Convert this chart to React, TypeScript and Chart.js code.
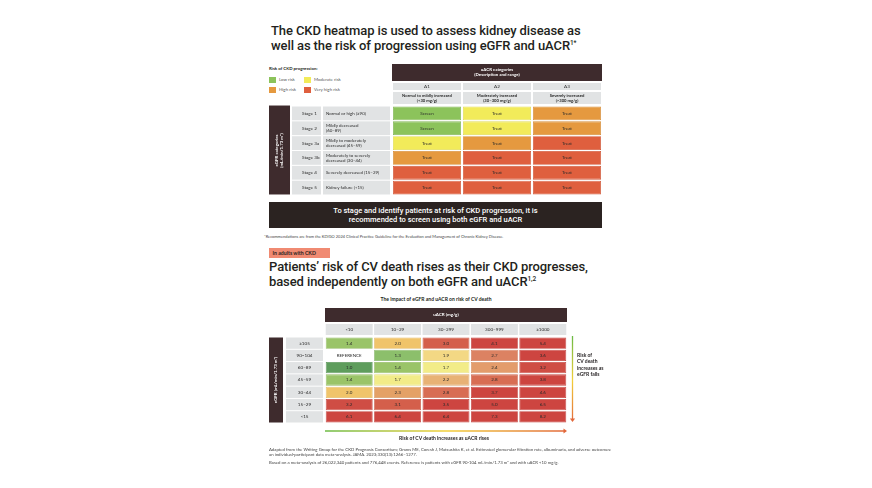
import React, { useEffect, useRef } from "react";
import { Chart, registerables } from "chart.js";

Chart.register(...registerables);

// ---- CKD staging heatmap (KDIGO) ----
const stageLabels = ["Stage 1", "Stage 2", "Stage 3a", "Stage 3b", "Stage 4", "Stage 5"];
const stageDescriptions = [
  ["Normal or high (≥90)"],
  ["Mildly decreased", "(60–89)"],
  ["Mildly to moderately", "decreased (45–59)"],
  ["Moderately to severely", "decreased (30–44)"],
  ["Severely decreased (15–29)"],
  ["Kidney failure (<15)"],
];
const uacrCategories = ["A1", "A2", "A3"];
const uacrDescriptions = [
  ["Normal to mildly increased", "(<30 mg/g)"],
  ["Moderately increased", "(30–300 mg/g)"],
  ["Severely increased", "(>300 mg/g)"],
];
const riskLevels = [
  ["low", "moderate", "high"],
  ["low", "moderate", "high"],
  ["moderate", "high", "veryHigh"],
  ["high", "veryHigh", "veryHigh"],
  ["veryHigh", "veryHigh", "veryHigh"],
  ["veryHigh", "veryHigh", "veryHigh"],
];
const legendItems = [
  ["low", "Low risk"],
  ["moderate", "Moderate risk"],
  ["high", "High risk"],
  ["veryHigh", "Very high risk"],
];

// ---- CV death hazard ratios by eGFR and uACR ----
const egfrBands = ["≥105", "90–104", "60–89", "45–59", "30–44", "15–29", "<15"];
const uacrBands = ["<10", "10–29", "30–299", "300–999", "≥1000"];
const cvDeathRisk: (number | null)[][] = [
  [1.4, 2.0, 3.0, 4.1, 5.4],
  [null, 1.3, 1.9, 2.7, 3.6],
  [1.0, 1.4, 1.7, 2.4, 3.2],
  [1.4, 1.7, 2.2, 2.8, 3.8],
  [2.0, 2.3, 2.8, 3.7, 4.6],
  [3.2, 3.1, 3.5, 5.0, 6.5],
  [6.1, 6.4, 6.4, 7.3, 8.2],
];

const riskFill: Record<string, string> = {
  low: "#8cc35b",
  moderate: "#f2eb5a",
  high: "#e5993f",
  veryHigh: "#df5f3e",
};

const cvScale: [number, string][] = [
  [1.0, "#5e9d5c"],
  [1.3, "#8cbf6b"],
  [1.4, "#9ac468"],
  [1.7, "#f2ec88"],
  [1.9, "#f3d884"],
  [2.0, "#f0c46a"],
  [2.2, "#e8b275"],
  [2.3, "#e4a166"],
  [2.4, "#e39c6b"],
  [2.7, "#dc8262"],
  [2.8, "#d86d53"],
  [3.0, "#d45f4b"],
  [3.2, "#cf4d44"],
  [3.5, "#cd4540"],
];

const DARK = "#3e2b2d";
const GREY = "#e1e3e4";
const INK = "#2a2a2a";
const SMALL = "Lato, 'Noto Sans', sans-serif";

function cvColor(v: number | null) {
  if (v === null) return "#ffffff";
  let c = cvScale[0][1];
  for (const [t, col] of cvScale) if (v >= t - 1e-9) c = col;
  return c;
}

function shade(hex: string, k: number) {
  const n = parseInt(hex.slice(1), 16);
  const r = Math.round(((n >> 16) & 255) * k);
  const g = Math.round(((n >> 8) & 255) * k);
  const b = Math.round((n & 255) * k);
  return `rgb(${r},${g},${b})`;
}

type Rect = { l: number; r: number; t: number; b: number; cx: number; cy: number };

function cellRect(chart: any, row: number, col: number): Rect {
  const el = chart.getDatasetMeta(row).data[col];
  const p = el.getProps(["x", "y", "base", "width"], true);
  const t = Math.min(p.y, p.base);
  const b = Math.max(p.y, p.base);
  return { l: p.x - p.width / 2, r: p.x + p.width / 2, t, b, cx: p.x, cy: (t + b) / 2 };
}

function box(ctx: CanvasRenderingContext2D, x0: number, y0: number, x1: number, y1: number, fill: string) {
  ctx.fillStyle = fill;
  ctx.fillRect(x0, y0, x1 - x0, y1 - y0);
}

function label(
  ctx: CanvasRenderingContext2D,
  lines: string[],
  x: number,
  cy: number,
  font: string,
  color: string,
  align: CanvasTextAlign = "center",
  lh = 5.2
) {
  ctx.save();
  ctx.font = font;
  ctx.fillStyle = color;
  ctx.textAlign = align;
  ctx.textBaseline = "middle";
  const start = cy - ((lines.length - 1) * lh) / 2;
  lines.forEach((s, i) => ctx.fillText(s, x, start + i * lh));
  ctx.restore();
}

function heatConfig(o: {
  rows: number;
  cols: string[];
  fill: (r: number, c: number) => string;
  stroke: (r: number, c: number) => string;
  padding: { left: number; top: number; right: number; bottom: number };
  barPct: number;
  inset: number;
  plugins: any[];
}): any {
  const datasets = Array.from({ length: o.rows }, (_, r) => ({
    data: o.cols.map(() => [r + o.inset, r + 1 - o.inset]),
    backgroundColor: o.cols.map((_, c) => o.fill(r, c)),
    borderColor: o.cols.map((_, c) => o.stroke(r, c)),
    borderWidth: 0.8,
    borderSkipped: false,
    grouped: false,
    categoryPercentage: 1,
    barPercentage: o.barPct,
  }));
  return {
    type: "bar",
    data: { labels: o.cols, datasets },
    options: {
      responsive: false,
      animation: false,
      layout: { padding: o.padding },
      scales: {
        x: { type: "category", display: false, offset: true },
        y: { type: "linear", display: false, min: 0, max: o.rows, reverse: true },
      },
      plugins: { legend: { display: false }, tooltip: { enabled: false }, title: { display: false } },
    },
    plugins: o.plugins,
  };
}

// Headers, row labels and cell text for the staging grid
const stagingDecor = {
  id: "stagingDecor",
  beforeDatasetsDraw(chart: any) {
    const { ctx, chartArea: a } = chart;
    box(ctx, a.left, a.top - 42, a.right, a.top - 25, DARK);
    label(ctx, ["uACR categories", "(Description and range)"], (a.left + a.right) / 2, a.top - 33.5, `700 4.4px ${SMALL}`, "#fff", "center", 5);
    uacrCategories.forEach((name, c) => {
      const cell = cellRect(chart, 0, c);
      box(ctx, cell.l, a.top - 23, cell.r, a.top - 16, GREY);
      label(ctx, [name], cell.cx, a.top - 19.5, `400 4.6px ${SMALL}`, INK);
      box(ctx, cell.l, a.top - 14, cell.r, a.top - 2, GREY);
      label(ctx, uacrDescriptions[c], cell.cx, a.top - 8, `700 4.2px ${SMALL}`, INK, "center", 4.8);
    });
    const first = cellRect(chart, 0, 0);
    const last = cellRect(chart, stageLabels.length - 1, 0);
    box(ctx, a.left - 123, first.t - 1, a.left - 102, last.b, DARK);
    ctx.save();
    ctx.translate(a.left - 112.5, (first.t + last.b) / 2);
    ctx.rotate(-Math.PI / 2);
    label(ctx, ["eGFR categories", "(mL/min/1.73 m²)"], 0, 0, `700 4.4px ${SMALL}`, "#fff", "center", 5);
    ctx.restore();
    stageLabels.forEach((s, r) => {
      const cell = cellRect(chart, r, 0);
      box(ctx, a.left - 100, cell.t, a.left - 71, cell.b, GREY);
      label(ctx, [s], a.left - 90, cell.cy, `400 4.6px ${SMALL}`, INK, "left");
      box(ctx, a.left - 69, cell.t, a.left - 2, cell.b, GREY);
      label(ctx, stageDescriptions[r], a.left - 66, cell.cy, `400 4.4px ${SMALL}`, INK, "left", 4.8);
    });
  },
  afterDatasetsDraw(chart: any) {
    const { ctx } = chart;
    riskLevels.forEach((row, r) =>
      row.forEach((lvl, c) => {
        const cell = cellRect(chart, r, c);
        label(ctx, [lvl === "low" ? "Screen" : "Treat"], cell.cx, cell.cy, `400 4.5px ${SMALL}`, INK);
      })
    );
  },
};

function arrowHead(ctx: CanvasRenderingContext2D, x: number, y: number, dir: "down" | "right", color: string) {
  ctx.save();
  ctx.fillStyle = color;
  ctx.beginPath();
  if (dir === "down") {
    ctx.moveTo(x - 2.6, y - 3.5);
    ctx.lineTo(x + 2.6, y - 3.5);
    ctx.lineTo(x, y);
  } else {
    ctx.moveTo(x - 3.5, y - 2.6);
    ctx.lineTo(x - 3.5, y + 2.6);
    ctx.lineTo(x, y);
  }
  ctx.closePath();
  ctx.fill();
  ctx.restore();
}

// Headers, row labels, value text and trend arrows for the CV death grid
const cvDecor = {
  id: "cvDecor",
  beforeDatasetsDraw(chart: any) {
    const { ctx, chartArea: a } = chart;
    box(ctx, a.left, a.top - 29, a.right, a.top - 15, DARK);
    label(ctx, ["uACR (mg/g)"], (a.left + a.right) / 2, a.top - 22, `700 4.5px ${SMALL}`, "#fff");
    uacrBands.forEach((name, c) => {
      const cell = cellRect(chart, 0, c);
      box(ctx, cell.l, a.top - 13, cell.r, a.top - 2, GREY);
      label(ctx, [name], cell.cx, a.top - 7.5, `400 4.6px ${SMALL}`, INK);
    });
    const first = cellRect(chart, 0, 0);
    const last = cellRect(chart, egfrBands.length - 1, 0);
    box(ctx, a.left - 56, first.t, a.left - 42, last.b, DARK);
    ctx.save();
    ctx.translate(a.left - 49, (first.t + last.b) / 2);
    ctx.rotate(-Math.PI / 2);
    label(ctx, ["eGFR (mL/min/1.73 m²)"], 0, 0, `700 4.4px ${SMALL}`, "#fff");
    ctx.restore();
    egfrBands.forEach((s, r) => {
      const cell = cellRect(chart, r, 0);
      box(ctx, a.left - 39, cell.t, a.left - 2, cell.b, GREY);
      label(ctx, [s], a.left - 20.5, cell.cy, `400 4.6px ${SMALL}`, INK);
    });

    // eGFR trend arrow (right side)
    const vx = a.right + 5.5;
    const vg = ctx.createLinearGradient(0, a.top, 0, a.bottom);
    vg.addColorStop(0, "#6dbb45");
    vg.addColorStop(0.5, "#f2cf3a");
    vg.addColorStop(1, "#e2673a");
    ctx.save();
    ctx.strokeStyle = vg;
    ctx.lineWidth = 1.3;
    ctx.beginPath();
    ctx.moveTo(vx, a.top - 1);
    ctx.lineTo(vx, a.bottom - 3);
    ctx.stroke();
    ctx.restore();
    arrowHead(ctx, vx, a.bottom - 1, "down", "#e2673a");

    // uACR trend arrow (below)
    const hy = a.bottom + 8;
    const hg = ctx.createLinearGradient(a.left, 0, a.right, 0);
    hg.addColorStop(0, "#6dbb45");
    hg.addColorStop(0.5, "#f2cf3a");
    hg.addColorStop(1, "#e2673a");
    ctx.save();
    ctx.strokeStyle = hg;
    ctx.lineWidth = 1.3;
    ctx.beginPath();
    ctx.moveTo(a.left, hy);
    ctx.lineTo(a.right - 3, hy);
    ctx.stroke();
    ctx.restore();
    arrowHead(ctx, a.right, hy, "right", "#e2673a");
  },
  afterDatasetsDraw(chart: any) {
    const { ctx } = chart;
    cvDeathRisk.forEach((row, r) =>
      row.forEach((v, c) => {
        const cell = cellRect(chart, r, c);
        label(ctx, [v === null ? "REFERENCE" : v.toFixed(1)], cell.cx, cell.cy, `400 4.5px ${SMALL}`, INK);
      })
    );
  },
};

function ChartCanvas(props: { left: number; top: number; width: number; height: number; make: () => any }) {
  const ref = useRef<HTMLCanvasElement>(null);
  useEffect(() => {
    const chart = new Chart(ref.current as HTMLCanvasElement, props.make());
    return () => chart.destroy();
  }, []);
  return (
    <canvas
      ref={ref}
      width={props.width}
      height={props.height}
      style={{ position: "absolute", left: props.left, top: props.top, width: props.width, height: props.height }}
    />
  );
}

const at = (left: number, top: number, extra: React.CSSProperties = {}): React.CSSProperties => ({
  position: "absolute",
  left,
  top,
  whiteSpace: "nowrap",
  ...extra,
});

const headline: React.CSSProperties = {
  fontFamily: "Roboto, 'Liberation Sans', sans-serif",
  fontWeight: 500,
  fontSize: 13,
  lineHeight: "15px",
  color: "#231f20",
  letterSpacing: -0.1,
};

const sup: React.CSSProperties = { fontSize: 6.5, verticalAlign: "top", lineHeight: "10px" };

export default function App() {
  return (
    <div
      style={{
        position: "absolute",
        left: 0,
        top: 0,
        width: 872,
        height: 488,
        background: "#fff",
        overflow: "hidden",
        fontFamily: SMALL,
        color: "#231f20",
      }}
    >
      <div style={at(271, 23, headline)}>
        The CKD heatmap is used to assess kidney disease as
        <br />
        well as the risk of progression using eGFR and uACR<span style={sup}>1*</span>
      </div>

      <div style={at(269, 66, { fontSize: 4.4, fontWeight: 700 })}>Risk of CKD progression:</div>
      {legendItems.map(([key, text], i) => {
        const x = 269 + (i % 2) * 35;
        const y = 77 + Math.floor(i / 2) * 10;
        return (
          <React.Fragment key={key}>
            <div style={at(x, y, { width: 7, height: 6, background: riskFill[key] })} />
            <div style={at(x + 10, y, { fontSize: 4.4, lineHeight: "6px", color: "#555" })}>{text}</div>
          </React.Fragment>
        );
      })}

      <ChartCanvas
        left={262}
        top={58}
        width={350}
        height={142}
        make={() =>
          heatConfig({
            rows: stageLabels.length,
            cols: uacrCategories,
            fill: (r, c) => riskFill[riskLevels[r][c]],
            stroke: (r, c) => shade(riskFill[riskLevels[r][c]], 0.93),
            padding: { left: 130, top: 48, right: 10, bottom: 5 },
            barPct: 0.972,
            inset: 0.035,
            plugins: [stagingDecor],
          })
        }
      />

      <div
        style={at(269, 202, {
          width: 333,
          height: 26,
          background: "#2b2321",
          color: "#fff",
          fontFamily: "Roboto, 'Liberation Sans', sans-serif",
          fontWeight: 500,
          fontSize: 7.5,
          lineHeight: "9.2px",
          textAlign: "center",
          display: "flex",
          flexDirection: "column",
          justifyContent: "center",
        })}
      >
        <div>To stage and identify patients at risk of CKD progression, it is</div>
        <div>recommended to screen using both eGFR and uACR</div>
      </div>
      <div style={at(264, 234, { fontSize: 4, color: "#444" })}>
        *Recommendations are from the KDIGO 2024 Clinical Practice Guideline for the Evaluation and Management of
        Chronic Kidney Disease.
      </div>

      <div
        style={at(269, 248, {
          width: 61,
          height: 10,
          background: "#f08a72",
          fontSize: 5.2,
          fontWeight: 700,
          lineHeight: "10px",
          paddingLeft: 3.5,
          boxSizing: "border-box",
          color: "#2b2321",
        })}
      >
        In adults with CKD
      </div>
      <div style={at(269, 259, headline)}>
        Patients’ risk of CV death rises as their CKD progresses,
        <br />
        based independently on both eGFR and uACR<span style={sup}>1,2</span>
      </div>

      <div style={at(336, 296, { width: 200, textAlign: "center", fontSize: 5, fontWeight: 700 })}>
        The impact of eGFR and uACR on risk of CV death
      </div>

      <ChartCanvas
        left={262}
        top={304}
        width={363}
        height={138}
        make={() =>
          heatConfig({
            rows: egfrBands.length,
            cols: uacrBands,
            fill: (r, c) => cvColor(cvDeathRisk[r][c]),
            stroke: (r, c) => (cvDeathRisk[r][c] === null ? "#ffffff" : shade(cvColor(cvDeathRisk[r][c]), 0.94)),
            padding: { left: 63, top: 33, right: 58, bottom: 19 },
            barPct: 0.97,
            inset: 0.04,
            plugins: [cvDecor],
          })
        }
      />

      <div style={at(577, 352, { fontSize: 5, fontWeight: 700, lineHeight: "6.3px" })}>
        Risk of
        <br />
        CV death
        <br />
        increases as
        <br />
        eGFR falls
      </div>
      <div style={at(344, 435, { width: 200, textAlign: "center", fontSize: 5, fontWeight: 700 })}>
        Risk of CV death increases as uACR rises
      </div>

      <div style={at(269, 448, { fontSize: 4.3, lineHeight: "4.8px", color: "#444" })}>
        Adapted from the Writing Group for the CKD Prognosis Consortium; Grams ME, Coresh J, Matsushita K, et al.
        Estimated glomerular filtration rate, albuminuria, and adverse outcomes:
        <br />
        an individual-participant data meta-analysis. JAMA. 2023;330(13):1266–1277.
      </div>
      <div style={at(269, 461, { fontSize: 4.3, lineHeight: "4.8px", color: "#444" })}>
        Based on a meta-analysis of 26,022,340 patients and 776,448 events. Reference is patients with eGFR 90-104
        mL/min/1.73 m² and with uACR &lt;10 mg/g.
      </div>
    </div>
  );
}
